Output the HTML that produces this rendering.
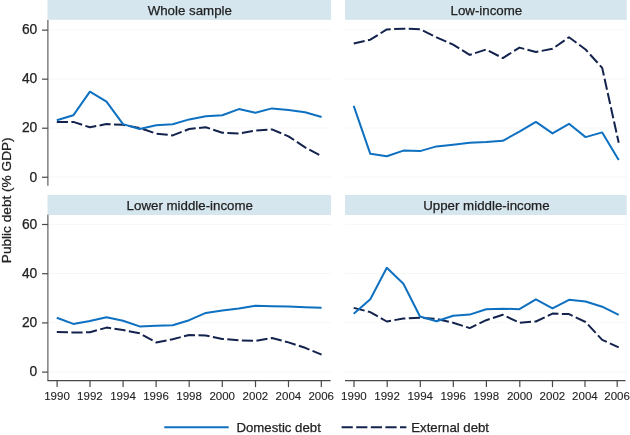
<!DOCTYPE html>
<html><head><meta charset="utf-8"><title>Public debt</title>
<style>html,body{margin:0;padding:0;background:#fff}svg text{font-family:"Liberation Sans",sans-serif;stroke:#222;stroke-width:0.25px}</style></head>
<body>
<svg width="630" height="435" viewBox="0 0 630 435" style="display:block">
<rect width="630" height="435" fill="#fff"/>
<rect x="47.5" y="0" width="283.6" height="19.8" fill="#d5e6ee"/>
<text x="189.8" y="14.6" text-anchor="middle" font-size="13.3" fill="#222">Whole sample</text>
<line x1="47.5" x2="331.1" y1="177.05" y2="177.05" stroke="#f5f7f6" stroke-width="1"/>
<line x1="47.5" x2="331.1" y1="128.01" y2="128.01" stroke="#f5f7f6" stroke-width="1"/>
<line x1="47.5" x2="331.1" y1="78.97" y2="78.97" stroke="#f5f7f6" stroke-width="1"/>
<line x1="47.5" x2="331.1" y1="29.93" y2="29.93" stroke="#f5f7f6" stroke-width="1"/>
<polyline points="56.8,121.9 73.3,121.9 89.9,127.3 106.5,124.1 123.0,124.8 139.6,128.0 156.1,133.6 172.7,135.4 189.2,129.0 205.8,127.3 222.3,132.7 238.9,133.6 255.4,130.6 271.9,129.4 288.5,136.3 305.1,147.4 321.6,156.0" fill="none" stroke="#14234d" stroke-width="2" stroke-linejoin="round" stroke-dasharray="11.2 3.4"/>
<polyline points="56.8,120.2 73.3,115.3 89.9,91.7 106.5,101.7 123.0,124.1 139.6,129.0 156.1,125.3 172.7,124.3 189.2,119.4 205.8,116.2 222.3,115.3 238.9,109.1 255.4,112.8 271.9,108.4 288.5,109.9 305.1,112.3 321.6,117.0" fill="none" stroke="#0e70c0" stroke-width="2" stroke-linejoin="round"/>
<rect x="345.0" y="0" width="281.70000000000005" height="19.8" fill="#d5e6ee"/>
<text x="486.4" y="14.6" text-anchor="middle" font-size="13.3" fill="#222">Low-income</text>
<line x1="345.0" x2="626.7" y1="177.05" y2="177.05" stroke="#f5f7f6" stroke-width="1"/>
<line x1="345.0" x2="626.7" y1="128.01" y2="128.01" stroke="#f5f7f6" stroke-width="1"/>
<line x1="345.0" x2="626.7" y1="78.97" y2="78.97" stroke="#f5f7f6" stroke-width="1"/>
<line x1="345.0" x2="626.7" y1="29.93" y2="29.93" stroke="#f5f7f6" stroke-width="1"/>
<polyline points="353.7,43.4 370.3,39.7 386.8,29.4 403.4,28.7 420.0,29.2 436.5,37.3 453.1,44.6 469.7,54.9 486.2,49.5 502.8,58.1 519.4,47.6 535.9,52.0 552.5,48.8 569.0,37.3 585.6,49.5 602.2,67.9 618.7,142.7" fill="none" stroke="#14234d" stroke-width="2" stroke-linejoin="round" stroke-dasharray="11.2 3.4"/>
<polyline points="353.7,105.9 370.3,153.8 386.8,156.2 403.4,150.6 420.0,151.1 436.5,146.4 453.1,144.7 469.7,142.7 486.2,142.0 502.8,140.8 519.4,131.7 535.9,121.9 552.5,133.4 569.0,123.8 585.6,137.1 602.2,132.4 618.7,159.9" fill="none" stroke="#0e70c0" stroke-width="2" stroke-linejoin="round"/>
<rect x="47.5" y="195.0" width="283.6" height="20.0" fill="#d5e6ee"/>
<text x="189.8" y="209.6" text-anchor="middle" font-size="13.3" fill="#222">Lower middle-income</text>
<line x1="47.5" x2="331.1" y1="371.90" y2="371.90" stroke="#f5f7f6" stroke-width="1"/>
<line x1="47.5" x2="331.1" y1="322.70" y2="322.70" stroke="#f5f7f6" stroke-width="1"/>
<line x1="47.5" x2="331.1" y1="273.50" y2="273.50" stroke="#f5f7f6" stroke-width="1"/>
<line x1="47.5" x2="331.1" y1="224.30" y2="224.30" stroke="#f5f7f6" stroke-width="1"/>
<polyline points="56.8,332.0 73.3,332.5 89.9,332.3 106.5,327.6 123.0,330.1 139.6,333.3 156.1,342.4 172.7,339.2 189.2,335.0 205.8,335.5 222.3,338.9 238.9,340.4 255.4,340.9 271.9,338.0 288.5,342.4 305.1,347.8 321.6,354.7" fill="none" stroke="#14234d" stroke-width="2" stroke-linejoin="round" stroke-dasharray="11.2 3.4"/>
<polyline points="56.8,317.8 73.3,323.9 89.9,321.0 106.5,317.3 123.0,320.7 139.6,326.4 156.1,325.7 172.7,325.2 189.2,320.2 205.8,312.9 222.3,310.4 238.9,308.4 255.4,305.7 271.9,306.2 288.5,306.5 305.1,307.2 321.6,307.7" fill="none" stroke="#0e70c0" stroke-width="2" stroke-linejoin="round"/>
<rect x="345.0" y="195.0" width="281.70000000000005" height="20.0" fill="#d5e6ee"/>
<text x="486.4" y="209.6" text-anchor="middle" font-size="13.3" fill="#222">Upper middle-income</text>
<line x1="345.0" x2="626.7" y1="371.90" y2="371.90" stroke="#f5f7f6" stroke-width="1"/>
<line x1="345.0" x2="626.7" y1="322.70" y2="322.70" stroke="#f5f7f6" stroke-width="1"/>
<line x1="345.0" x2="626.7" y1="273.50" y2="273.50" stroke="#f5f7f6" stroke-width="1"/>
<line x1="345.0" x2="626.7" y1="224.30" y2="224.30" stroke="#f5f7f6" stroke-width="1"/>
<polyline points="353.7,307.9 370.3,312.1 386.8,321.5 403.4,318.5 420.0,317.8 436.5,319.0 453.1,322.7 469.7,328.1 486.2,320.2 502.8,314.8 519.4,322.7 535.9,321.5 552.5,313.6 569.0,314.1 585.6,322.0 602.2,339.9 618.7,347.3" fill="none" stroke="#14234d" stroke-width="2" stroke-linejoin="round" stroke-dasharray="11.2 3.4"/>
<polyline points="353.7,313.8 370.3,299.3 386.8,267.8 403.4,283.8 420.0,316.5 436.5,321.2 453.1,315.8 469.7,314.6 486.2,309.2 502.8,308.7 519.4,309.2 535.9,299.3 552.5,308.4 569.0,299.8 585.6,301.5 602.2,306.7 618.7,314.8" fill="none" stroke="#0e70c0" stroke-width="2" stroke-linejoin="round"/>
<line x1="47.9" x2="47.9" y1="20.0" y2="185.85000000000002" stroke="#484848" stroke-width="1.05"/>
<line x1="42" x2="47.9" y1="177.25" y2="177.25" stroke="#484848" stroke-width="1.2"/>
<text x="37.3" y="181.5" text-anchor="end" font-size="13.8" fill="#222">0</text>
<line x1="42" x2="47.9" y1="128.21" y2="128.21" stroke="#484848" stroke-width="1.2"/>
<text x="37.3" y="132.4" text-anchor="end" font-size="13.8" fill="#222">20</text>
<line x1="42" x2="47.9" y1="79.17" y2="79.17" stroke="#484848" stroke-width="1.2"/>
<text x="37.3" y="83.4" text-anchor="end" font-size="13.8" fill="#222">40</text>
<line x1="42" x2="47.9" y1="30.13" y2="30.13" stroke="#484848" stroke-width="1.2"/>
<text x="37.3" y="34.3" text-anchor="end" font-size="13.8" fill="#222">60</text>
<line x1="47.9" x2="47.9" y1="214.8" y2="380.7" stroke="#484848" stroke-width="1.05"/>
<line x1="42" x2="47.9" y1="372.10" y2="372.10" stroke="#484848" stroke-width="1.2"/>
<text x="37.3" y="376.3" text-anchor="end" font-size="13.8" fill="#222">0</text>
<line x1="42" x2="47.9" y1="322.90" y2="322.90" stroke="#484848" stroke-width="1.2"/>
<text x="37.3" y="327.1" text-anchor="end" font-size="13.8" fill="#222">20</text>
<line x1="42" x2="47.9" y1="273.70" y2="273.70" stroke="#484848" stroke-width="1.2"/>
<text x="37.3" y="277.9" text-anchor="end" font-size="13.8" fill="#222">40</text>
<line x1="42" x2="47.9" y1="224.50" y2="224.50" stroke="#484848" stroke-width="1.2"/>
<text x="37.3" y="228.7" text-anchor="end" font-size="13.8" fill="#222">60</text>
<line x1="47.5" x2="330.6" y1="380.55" y2="380.55" stroke="#484848" stroke-width="1.2"/>
<line x1="57.1" x2="57.1" y1="380.5" y2="387.1" stroke="#484848" stroke-width="1.2"/>
<text x="57.0" y="400.0" text-anchor="middle" font-size="11.5" style="stroke-width:0.1px" fill="#222">1990</text>
<line x1="90.0" x2="90.0" y1="380.5" y2="387.1" stroke="#484848" stroke-width="1.2"/>
<text x="89.9" y="400.0" text-anchor="middle" font-size="11.5" style="stroke-width:0.1px" fill="#222">1992</text>
<line x1="123.1" x2="123.1" y1="380.5" y2="387.1" stroke="#484848" stroke-width="1.2"/>
<text x="123.0" y="400.0" text-anchor="middle" font-size="11.5" style="stroke-width:0.1px" fill="#222">1994</text>
<line x1="156.1" x2="156.1" y1="380.5" y2="387.1" stroke="#484848" stroke-width="1.2"/>
<text x="156.0" y="400.0" text-anchor="middle" font-size="11.5" style="stroke-width:0.1px" fill="#222">1996</text>
<line x1="189.2" x2="189.2" y1="380.5" y2="387.1" stroke="#484848" stroke-width="1.2"/>
<text x="189.1" y="400.0" text-anchor="middle" font-size="11.5" style="stroke-width:0.1px" fill="#222">1998</text>
<line x1="222.3" x2="222.3" y1="380.5" y2="387.1" stroke="#484848" stroke-width="1.2"/>
<text x="222.2" y="400.0" text-anchor="middle" font-size="11.5" style="stroke-width:0.1px" fill="#222">2000</text>
<line x1="255.5" x2="255.5" y1="380.5" y2="387.1" stroke="#484848" stroke-width="1.2"/>
<text x="255.4" y="400.0" text-anchor="middle" font-size="11.5" style="stroke-width:0.1px" fill="#222">2002</text>
<line x1="288.5" x2="288.5" y1="380.5" y2="387.1" stroke="#484848" stroke-width="1.2"/>
<text x="288.4" y="400.0" text-anchor="middle" font-size="11.5" style="stroke-width:0.1px" fill="#222">2004</text>
<line x1="321.3" x2="321.3" y1="380.5" y2="387.1" stroke="#484848" stroke-width="1.2"/>
<text x="321.2" y="400.0" text-anchor="middle" font-size="11.5" style="stroke-width:0.1px" fill="#222">2006</text>
<line x1="345.0" x2="625.5" y1="380.55" y2="380.55" stroke="#484848" stroke-width="1.2"/>
<line x1="354.0" x2="354.0" y1="380.5" y2="387.1" stroke="#484848" stroke-width="1.2"/>
<text x="353.9" y="400.0" text-anchor="middle" font-size="11.5" style="stroke-width:0.1px" fill="#222">1990</text>
<line x1="387.2" x2="387.2" y1="380.5" y2="387.1" stroke="#484848" stroke-width="1.2"/>
<text x="387.1" y="400.0" text-anchor="middle" font-size="11.5" style="stroke-width:0.1px" fill="#222">1992</text>
<line x1="420.3" x2="420.3" y1="380.5" y2="387.1" stroke="#484848" stroke-width="1.2"/>
<text x="420.2" y="400.0" text-anchor="middle" font-size="11.5" style="stroke-width:0.1px" fill="#222">1994</text>
<line x1="453.3" x2="453.3" y1="380.5" y2="387.1" stroke="#484848" stroke-width="1.2"/>
<text x="453.2" y="400.0" text-anchor="middle" font-size="11.5" style="stroke-width:0.1px" fill="#222">1996</text>
<line x1="486.4" x2="486.4" y1="380.5" y2="387.1" stroke="#484848" stroke-width="1.2"/>
<text x="486.3" y="400.0" text-anchor="middle" font-size="11.5" style="stroke-width:0.1px" fill="#222">1998</text>
<line x1="519.8" x2="519.8" y1="380.5" y2="387.1" stroke="#484848" stroke-width="1.2"/>
<text x="519.7" y="400.0" text-anchor="middle" font-size="11.5" style="stroke-width:0.1px" fill="#222">2000</text>
<line x1="552.5" x2="552.5" y1="380.5" y2="387.1" stroke="#484848" stroke-width="1.2"/>
<text x="552.4" y="400.0" text-anchor="middle" font-size="11.5" style="stroke-width:0.1px" fill="#222">2002</text>
<line x1="585.0" x2="585.0" y1="380.5" y2="387.1" stroke="#484848" stroke-width="1.2"/>
<text x="584.9" y="400.0" text-anchor="middle" font-size="11.5" style="stroke-width:0.1px" fill="#222">2004</text>
<line x1="617.2" x2="617.2" y1="380.5" y2="387.1" stroke="#484848" stroke-width="1.2"/>
<text x="617.1" y="400.0" text-anchor="middle" font-size="11.5" style="stroke-width:0.1px" fill="#222">2006</text>
<text transform="translate(11.3,200.3) rotate(-90)" text-anchor="middle" font-size="13.65" fill="#222">Public debt (% GDP)</text>
<line x1="164.3" x2="228.7" y1="427.2" y2="427.2" stroke="#0e70c0" stroke-width="2"/>
<text x="236.5" y="431.6" font-size="13.2" fill="#222">Domestic debt</text>
<line x1="341.6" x2="406.4" y1="427.2" y2="427.2" stroke="#14234d" stroke-width="2" stroke-dasharray="11.2 3.4"/>
<text x="411.3" y="431.6" font-size="13.2" fill="#222">External debt</text>
</svg>
</body></html>
